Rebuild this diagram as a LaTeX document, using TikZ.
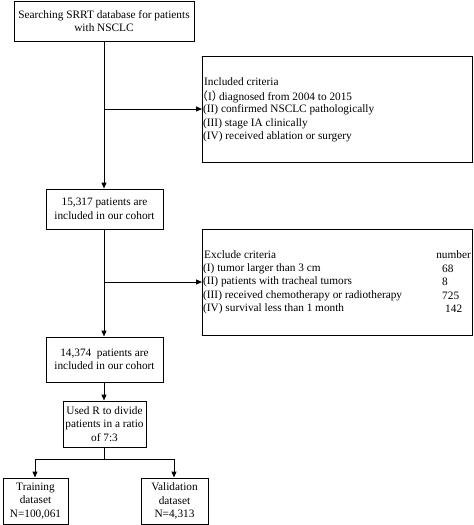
\documentclass[tikz,border=0pt]{standalone}
\usepackage{fontspec}
\setmainfont{Liberation Serif}
\newfontfamily\cjk{Noto Sans CJK SC}
\usetikzlibrary{arrows.meta}
\begin{document}
\begin{tikzpicture}[x=1pt,y=-1pt,
  font=\fontsize{11.3}{13.4}\selectfont,
  box/.style={draw, line width=1pt, inner sep=0pt, align=center},
  txt/.style={inner sep=0pt, anchor=west},
  arr/.style={line width=1pt, -{Triangle[length=6pt,width=5pt]}},
  ln/.style={line width=1pt}]
\useasboundingbox (0,0) rectangle (474,525);
\fill[white] (0,0) rectangle (474,525);
% boxes
\node[box, minimum width=180pt, minimum height=40pt] (top) at (104,21) {Searching SRRT database for patients\\with NSCLC};
\node[box, minimum width=270pt, minimum height=106pt] (inc) at (337.5,109) {};
\node[box, minimum width=117pt, minimum height=40pt] (c1) at (104.5,209) {15,317 patients are\\included in our cohort};
\node[box, minimum width=270pt, minimum height=106pt] (exc) at (337.5,282) {};
\node[box, minimum width=117pt, minimum height=45pt] (c2) at (104.5,359.5) {14,374\ \ patients are\\included in our cohort};
\node[box, minimum width=83pt, minimum height=46pt] (div) at (104.5,424) {Used R to divide\\patients in a ratio\\of 7:3};
\node[box, minimum width=65pt, minimum height=46pt] (train) at (35.5,501) {Training\\dataset\\N=100,061};
\node[box, minimum width=67pt, minimum height=46pt] (valid) at (174.5,501) {Validation\\dataset\\N=4,313};
% included text
\node[txt] (i0) at (204,82) {Included criteria};
\node[txt] (i1) at (203,96.5) {\hspace{-6.5pt}{\cjk （}I{\cjk ）}\hspace{-4pt}diagnosed from 2004 to 2015};
\node[txt] (i2) at (203,110) {(II) confirmed NSCLC pathologically};
\node[txt] (i3) at (203,123.5) {(III) stage IA clinically};
\node[txt] (i4) at (203,137) {(IV) received ablation or surgery};
% exclude text
\node[txt] (e0) at (204,255) {Exclude criteria};
\node[inner sep=0pt, anchor=east] (en) at (471,255) {number};
\node[txt] (e1) at (203,268.5) {(I) tumor larger than 3 cm};
\node[txt] (e2) at (203,282) {(II) patients with tracheal tumors};
\node[txt] (e3) at (203,295.5) {(III) received chemotherapy or radiotherapy};
\node[txt] (e4) at (203,309) {(IV) survival less than 1 month};
\node[txt] (n1) at (442,268.5) {68};
\node[txt] (n2) at (442,282) {8};
\node[txt] (n3) at (442,295.5) {725};
\node[txt] (n4) at (445,309) {142};
% connectors
\coordinate (b1) at (104,109);
\coordinate (b2) at (104,282);
\coordinate (sp) at (104,459);
\coordinate (sl) at (35,459);
\coordinate (sr) at (174,459);
\draw[arr] (top.south -| b1) -- (c1.north -| b1);
\draw[arr] (b1) -- (inc.west |- b1);
\draw[arr] (c1.south -| b2) -- (c2.north -| b2);
\draw[arr] (b2) -- (exc.west |- b2);
\draw[arr] (c2.south -| b2) -- (div.north -| b2);
\draw[ln] (div.south -| sp) -- (sp);
\draw[ln] (sl) -- (sr);
\draw[arr] (sl) -- (train.north -| sl);
\draw[arr] (sr) -- (valid.north -| sr);
\end{tikzpicture}
\end{document}
